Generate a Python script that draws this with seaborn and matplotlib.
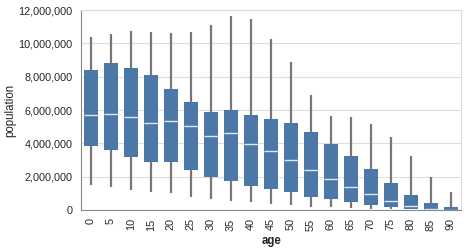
import matplotlib
matplotlib.use("Agg")
import matplotlib.pyplot as plt
import matplotlib.ticker as mticker
import numpy as np
import pandas as pd
import seaborn as sns

ages = [0, 5, 10, 15, 20, 25, 30, 35, 40, 45, 50, 55, 60, 65, 70, 75, 80, 85, 90]
pop_min = [1480000, 1360000, 1220000, 1100000, 1000000, 800000, 640000, 520000, 460000, 360000,
           300000, 200000, 160000, 120000, 80000, 60000, 40000, 10000, 0]
pop_q1 = [3840000, 3580000, 3200000, 2860000, 2860000, 2420000, 1980000, 1740000, 1440000, 1240000,
          1100000, 800000, 680000, 460000, 320000, 200000, 80000, 30000, 10000]
pop_median = [5680000, 5740000, 5560000, 5240000, 5320000, 5020000, 4420000, 4600000, 3940000, 3520000,
              2980000, 2380000, 1840000, 1360000, 940000, 520000, 260000, 60000, 30000]
pop_q3 = [8400000, 8800000, 8500000, 8080000, 7260000, 6480000, 5880000, 5980000, 5720000, 5480000,
          5200000, 4660000, 3960000, 3240000, 2460000, 1620000, 880000, 400000, 180000]
pop_max = [10360000, 10560000, 10760000, 10700000, 10600000, 10660000, 11100000, 11640000, 11480000, 10240000,
           8900000, 6920000, 5660000, 5600000, 5180000, 4360000, 3220000, 1980000, 1060000]

rows = []
for i, a in enumerate(ages):
    for v in (pop_min[i], pop_q1[i], pop_median[i], pop_q3[i], pop_max[i]):
        rows.append({"age": str(a), "population": v})
df = pd.DataFrame(rows)

sns.set_theme(style="white")
plt.rcParams["font.family"] = ["Liberation Sans", "DejaVu Sans"]

fig = plt.figure(figsize=(4.66, 2.49), dpi=100)
ax = fig.add_axes([81 / 466, 1 - 210 / 249, 380 / 466, 200 / 249])

sns.boxplot(data=df, x="age", y="population", order=[str(a) for a in ages],
            whis=(0, 100), width=0.7, showcaps=False, fliersize=0,
            color="#4c78a8", saturation=1, ax=ax,
            boxprops=dict(linewidth=0, facecolor="#4c78a8", edgecolor="#4c78a8"),
            whiskerprops=dict(color="#777777", linewidth=1.6),
            medianprops=dict(color="#dfe8f2", linewidth=1.0))

ax.set_ylim(0, 12000000)
ax.set_xlim(-0.5, len(ages) - 0.5)
ax.yaxis.set_major_locator(mticker.MultipleLocator(2000000))
ax.yaxis.set_major_formatter(mticker.FuncFormatter(lambda v, p: f"{int(v):,}"))
ax.grid(axis="y", color="#dddddd", linewidth=0.8)
ax.set_axisbelow(True)

for s in ("top", "right"):
    ax.spines[s].set_color("#dddddd")
    ax.spines[s].set_linewidth(0.8)
for s in ("left", "bottom"):
    ax.spines[s].set_color("#888888")
    ax.spines[s].set_linewidth(0.8)

ax.tick_params(axis="both", length=4, width=0.8, color="#888888", labelsize=7.8, pad=2)
ax.tick_params(axis="x", labelrotation=90)
ax.set_xlabel("age", fontsize=8.3, fontweight="bold", labelpad=3)
ax.set_ylabel("population", fontsize=8.3, va="center")
ax.yaxis.set_label_coords(-0.185, 0.5)

fig.savefig("out.png", dpi=100)
